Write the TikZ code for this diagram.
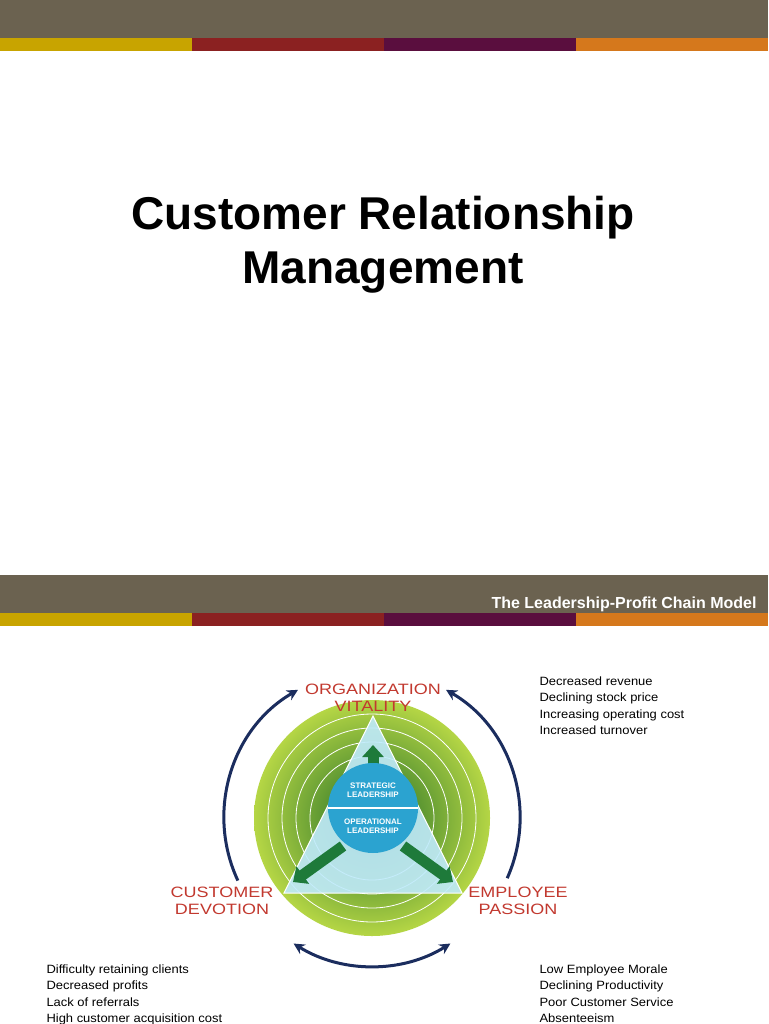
\documentclass[tikz,border=0pt]{standalone}
\usepackage{fontspec}
\setmainfont{Liberation Sans}
\newfontfamily\widesans[FakeStretch=1.2]{Liberation Sans}
\newfontfamily\listsans[FakeStretch=1.08]{Liberation Sans}
\usetikzlibrary{arrows.meta, positioning}
\definecolor{barbrown}{HTML}{6B6250}
\definecolor{stripegold}{HTML}{C8A400}
\definecolor{stripered}{HTML}{8B2121}
\definecolor{stripeplum}{HTML}{5A0E3E}
\definecolor{stripeorange}{HTML}{D5781C}
\definecolor{cyclenavy}{HTML}{1B2D5E}
\definecolor{labelred}{HTML}{C2392F}
\definecolor{ringgreen}{HTML}{1F6B25}
\definecolor{lightgreen}{HTML}{B5D645}
\definecolor{lead}{HTML}{2BA3D0}
\definecolor{arrowgreen}{HTML}{1E7A3A}

\begin{document}
\begin{tikzpicture}[x=1pt, y=-1pt]
    \tikzset{bartitle/.style={text=white, font=\bfseries\fontsize{16}{18}\selectfont, anchor=east},
             corner/.style={font=\widesans\fontsize{15}{17}\selectfont, text=labelred, align=center},
             symptom/.style={font=\listsans\fontsize{12}{16.5}\selectfont, align=left, anchor=north west},
             cycle/.style={cyclenavy, line width=3pt},
             push/.style={arrowgreen, line width=11pt, -{Triangle[width=21pt, length=12pt]}},
             lead text/.style={text=white, font=\bfseries\fontsize{8}{9}\selectfont, align=center}}
    \useasboundingbox (0,0) rectangle (768,1024);
    \fill[white] (0,0) rectangle (768,1024);
    % header bars
    \foreach \top in {0, 575} {
        \fill[barbrown] (0,\top) rectangle (768,\top+38);
        \fill[stripegold] (0,\top+38) rectangle (192,\top+51);
        \fill[stripered] (192,\top+38) rectangle (384,\top+51);
        \fill[stripeplum] (384,\top+38) rectangle (576,\top+51);
        \fill[stripeorange] (576,\top+38) rectangle (768,\top+51);
    }
    \node[bartitle] (modeltitle) at (760,604) {The Leadership-Profit Chain Model};
    \node[font=\bfseries\fontsize{46}{54}\selectfont, align=center] (title) at (383,245)
        {Customer Relationship\\Management};

    % rings
    \coordinate (hub) at (372,818);
    \shade[inner color=ringgreen, outer color=lightgreen] (hub) circle (118);
    \foreach \r in {104, 90, 76, 62}
        \draw[white, line width=0.8pt] (hub) circle (\r);
    \fill[cyan!25, opacity=0.9] (373,716) -- (284,893) -- (462,893) -- cycle;
    \draw[white, line width=1pt] (373,716) -- (284,893) -- (462,893) -- cycle;

    % pushes
    \draw[push] (373,790) -- (373,745);
    \draw[push] (343,846) -- (293,882);
    \draw[push] (403,846) -- (453,882);

    % leadership
    \fill[lead] (373,808) circle (45);
    \draw[white, line width=1.5pt] (328,808) -- (418,808);
    \node[lead text] (strategic) at (373,790) {STRATEGIC\\LEADERSHIP};
    \node[lead text] (operational) at (373,826) {OPERATIONAL\\LEADERSHIP};

    % corners
    \node[corner] (vitality) at (373,698) {ORGANIZATION\\VITALITY};
    \node[corner] (devotion) at (222,901) {CUSTOMER\\DEVOTION};
    \node[corner] (passion) at (518,901) {EMPLOYEE\\PASSION};

    % cycle
    \draw[cycle, -{Stealth[length=11pt, width=11pt]}] (hub) ++(155:148) arc[start angle=155, end angle=240, radius=148];
    \draw[cycle, -{Stealth[length=11pt, width=11pt]}] (hub) ++(24:148) arc[start angle=24, end angle=-60, radius=148];
    \draw[cycle, {Stealth[length=11pt, width=11pt]}-{Stealth[length=11pt, width=11pt]}] (hub) ++(122:148) arc[start angle=122, end angle=58, radius=148];

    % symptoms
    \node[symptom] (vitalitylist) at (536,673) {Decreased revenue\\Declining stock price\\Increasing operating cost\\Increased turnover};
    \node[symptom] (devotionlist) at (43,961) {Difficulty retaining clients\\Decreased profits\\Lack of referrals\\High customer acquisition cost};
    \node[symptom] (passionlist) at (536,961) {Low Employee Morale\\Declining Productivity\\Poor Customer Service\\Absenteeism};
\end{tikzpicture}
\end{document}
